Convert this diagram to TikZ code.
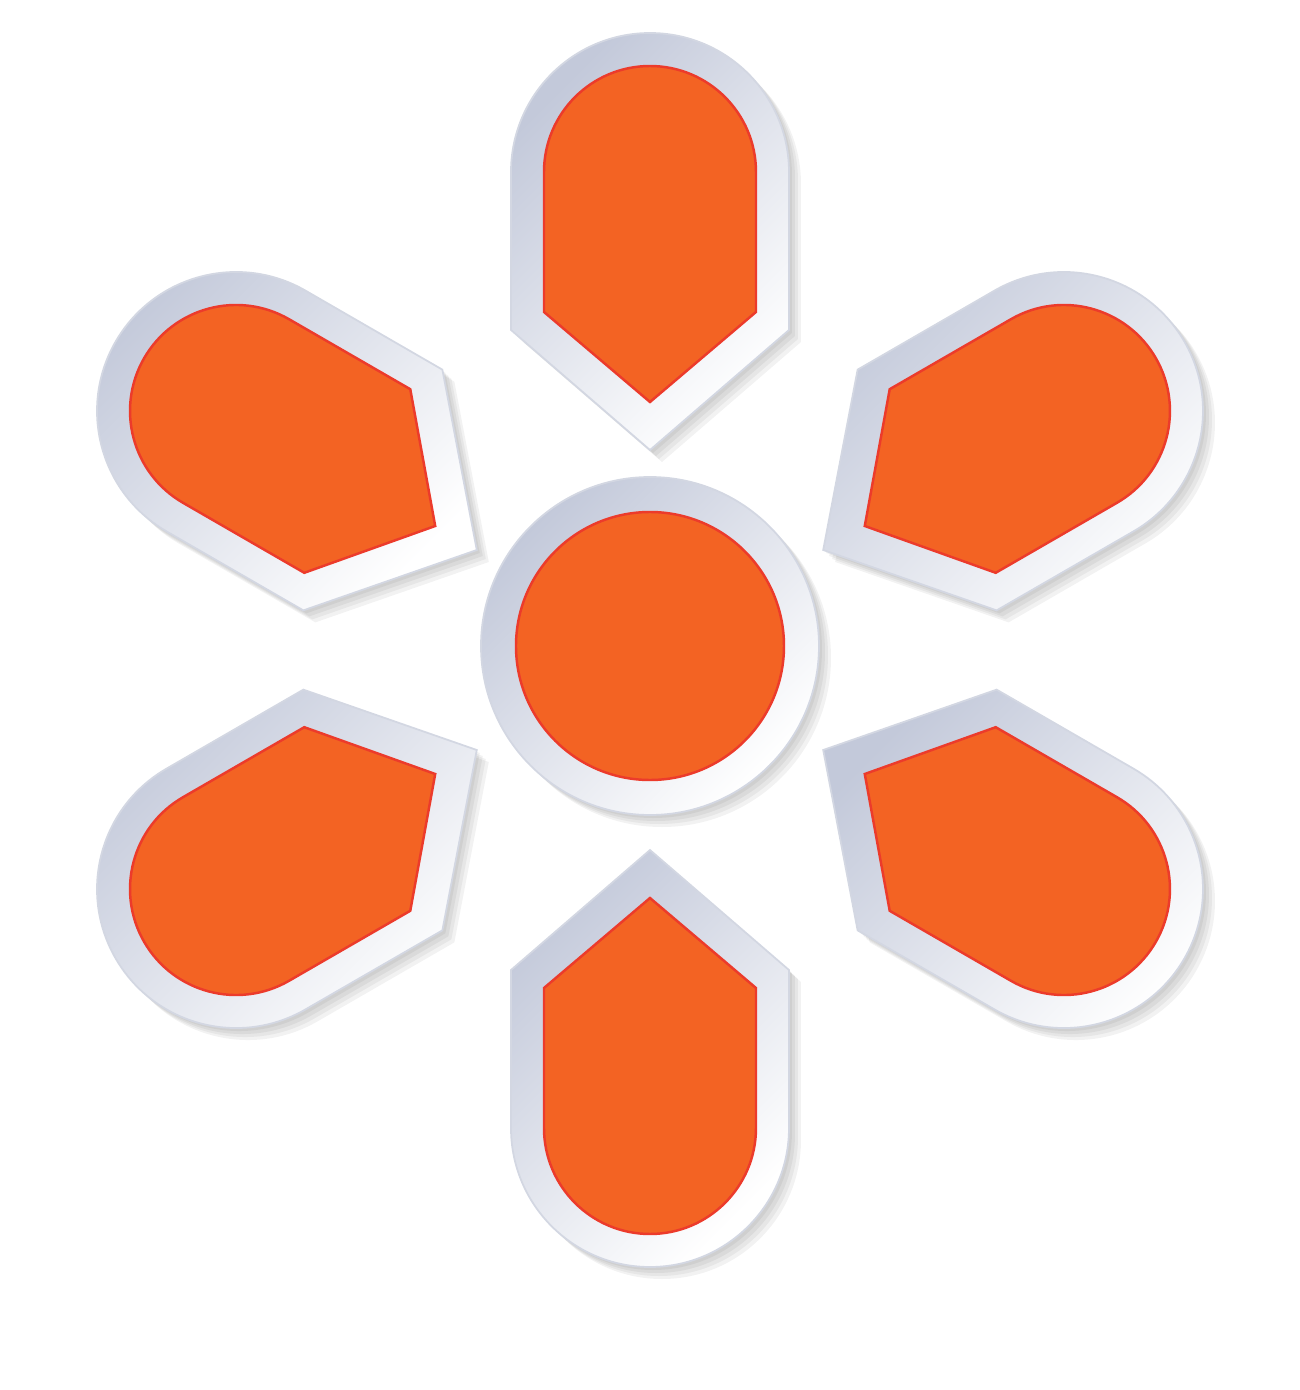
\documentclass[tikz,border=0pt]{standalone}
\usepackage{tikz}

\definecolor{petalorange}{HTML}{F36323}
\definecolor{corered}{HTML}{EC3B2B}
\definecolor{rimgrey}{HTML}{C3C9DA}
\definecolor{rimline}{HTML}{D3D7E2}

% Outline of one petal, pointing up, tip towards the centre
\newcommand{\petalrim}{(0,200) -- (-139,320) -- (-139,478) arc[start angle=180, end angle=0, radius=139] -- (139,320) -- cycle}
\newcommand{\petalcore}{(0,248) -- (-106,338) -- (-106,478) arc[start angle=180, end angle=0, radius=106] -- (106,338) -- cycle}

\begin{document}
\begin{tikzpicture}[x=0.01cm, y=0.01cm,
        rim/.style={top color=rimgrey, bottom color=white, shading angle=45, draw=rimline, line width=0.5pt},
        core/.style={fill=petalorange, draw=corered, line width=0.7pt},
        softshadow/.style={fill=black, opacity=0.05}]

        \useasboundingbox (-650,-740) rectangle (650,650);

        % Soft shadows, shifted to the lower right
        \foreach \s in {3,6,9,12} {
            \fill[softshadow] (\s,4-\s) circle (169);
            \foreach \r in {0,-60,-120,-180,-240,60} {
                \begin{scope}[shift={(\s,-\s)}, rotate=\r]
                    \fill[softshadow] \petalrim;
                \end{scope}
            }
        }

        % Centre disc
        \draw[rim] (0,4) circle (169);
        \draw[core] (0,4) circle (134);

        % Six petals around the disc (light always from the upper left)
        \foreach \r in {0,-60,-120,-180,-240,60} {
            \begin{scope}[rotate=\r]
                \draw[rim] \petalrim;
                \draw[core] \petalcore;
            \end{scope}
        }

    \end{tikzpicture}
\end{document}
